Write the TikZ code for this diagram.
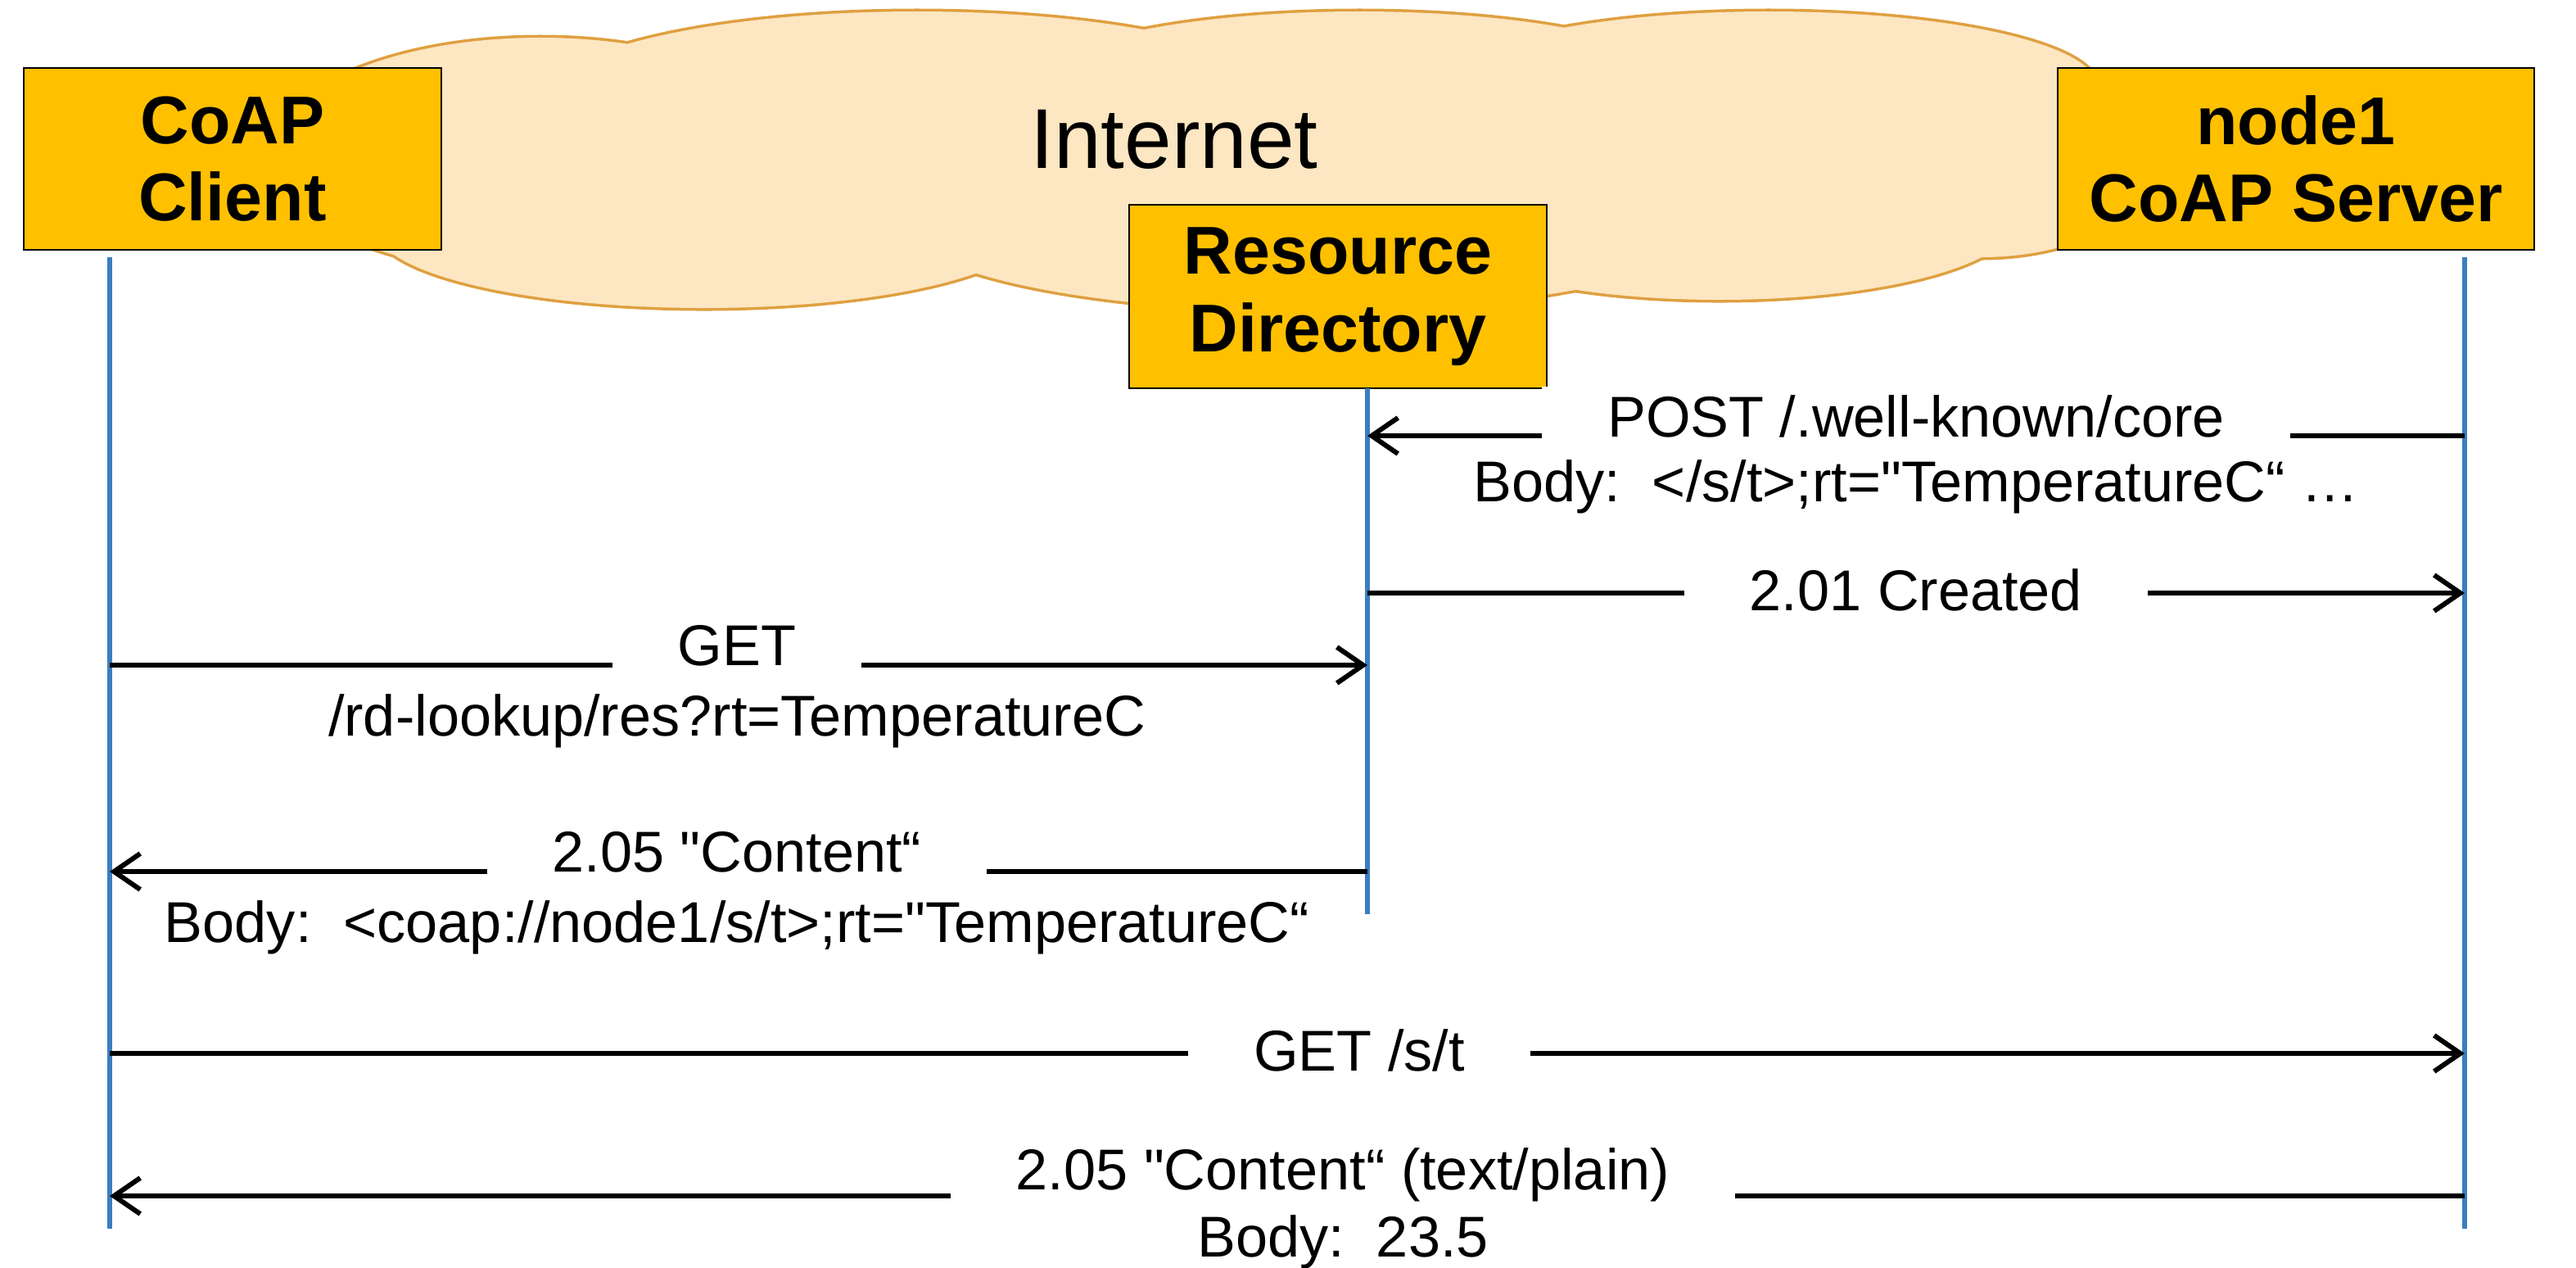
\documentclass[tikz,border=0pt]{standalone}
\usepackage{fontspec}
\setmainfont{Liberation Sans}
\usetikzlibrary{positioning,arrows.meta}
\definecolor{boxorange}{HTML}{FFC000}
\definecolor{cloudfill}{HTML}{FDE6C2}
\definecolor{cloudline}{HTML}{DFA040}
\definecolor{lifeblue}{HTML}{3A7EC0}

\newcommand{\dq}{\textquotedbl}

\tikzset{
	party/.style={draw,thick,fill=boxorange,font=\fontsize{23.5}{27}\selectfont\bfseries,align=center,inner sep=0pt},
	life/.style={lifeblue,line width=1.5pt},
	msg/.style={line width=1.7pt,-{Straight Barb[length=3.2mm,width=4.4mm]}},
	lbl/.style={fill=white,font=\fontsize{20}{23}\selectfont,inner xsep=0.8cm,inner ysep=3pt},
	sub/.style={font=\fontsize{20}{23}\selectfont,inner sep=0pt}
}

\begin{document}
\begin{tikzpicture}[x=0.02cm,y=-0.02cm]
	\useasboundingbox (0,0) rectangle (1573,773.5);

	% cloud
	\foreach \cx/\cy/\rx/\ry in {330/95/165/72,560/62/230/55,830/52/200/45,1080/52/200/45,1210/95/110/62,800/135/250/55,430/140/200/48,1050/135/180/48,800/95/320/60}
		\draw[cloudline,line width=2pt,fill=cloudfill] (\cx,\cy) ellipse[x radius=\rx,y radius=\ry];
	\foreach \cx/\cy/\rx/\ry in {330/95/165/72,560/62/230/55,830/52/200/45,1080/52/200/45,1210/95/110/62,800/135/250/55,430/140/200/48,1050/135/180/48,800/95/320/60}
		\fill[cloudfill] (\cx,\cy) ellipse[x radius=\rx,y radius=\ry];
	\node[font=\fontsize{29.5}{34}\selectfont] (inet) at (717,85) {Internet};

	% parties
	\node[party,minimum width=255*0.02cm,minimum height=111*0.02cm] (client) at (142,97) {CoAP\\Client};
	\node[party,minimum width=255*0.02cm,minimum height=112*0.02cm] (rd) at (817,181) {Resource\\Directory};
	\node[party,minimum width=291*0.02cm,minimum height=111*0.02cm] (server) at (1402,97) {node1\\CoAP Server};

	% lifelines
	\coordinate (c0) at (67,157);  \coordinate (c1) at (67,750);
	\coordinate (r0) at (835,237); \coordinate (r1) at (835,558);
	\coordinate (s0) at (1505,157);\coordinate (s1) at (1505,750);
	\draw[life] (c0) -- (c1);
	\draw[life] (r0) -- (r1);
	\draw[life] (s0) -- (s1);

	% messages
	\coordinate (m1s) at (1505,266); \coordinate (m1r) at (835,266);
	\draw[msg] (m1s) -- (m1r);
	\node[lbl] (m1) at (1170,254) {POST /.well-known/core};
	\node[sub] (m1b) at (1170,297) {Body:\ \ </s/t>;rt=\dq TemperatureC“ …};

	\coordinate (m2s) at (835,362); \coordinate (m2r) at (1505,362);
	\draw[msg] (m2s) -- (m2r);
	\node[lbl] (m2) at (1170,360) {2.01 Created};

	\coordinate (m3s) at (67,406); \coordinate (m3r) at (835,406);
	\draw[msg] (m3s) -- (m3r);
	\node[lbl] (m3) at (450,394) {GET};
	\node[sub] (m3b) at (450,440) {/rd-lookup/res?rt=TemperatureC};

	\coordinate (m4s) at (835,532); \coordinate (m4r) at (67,532);
	\draw[msg] (m4s) -- (m4r);
	\node[lbl] (m4) at (450,520) {2.05 \dq Content“};
	\node[sub] (m4b) at (450,566) {Body:\ \ <coap://node1/s/t>;rt=\dq TemperatureC“};

	\coordinate (m5s) at (67,643); \coordinate (m5r) at (1505,643);
	\draw[msg] (m5s) -- (m5r);
	\node[lbl] (m5) at (830,641) {GET /s/t};

	\coordinate (m6s) at (1505,730); \coordinate (m6r) at (67,730);
	\draw[msg] (m6s) -- (m6r);
	\node[lbl] (m6) at (820,717) {2.05 \dq Content“ (text/plain)};
	\node[sub] (m6b) at (820,758) {Body:\ \ 23.5};
\end{tikzpicture}
\end{document}
